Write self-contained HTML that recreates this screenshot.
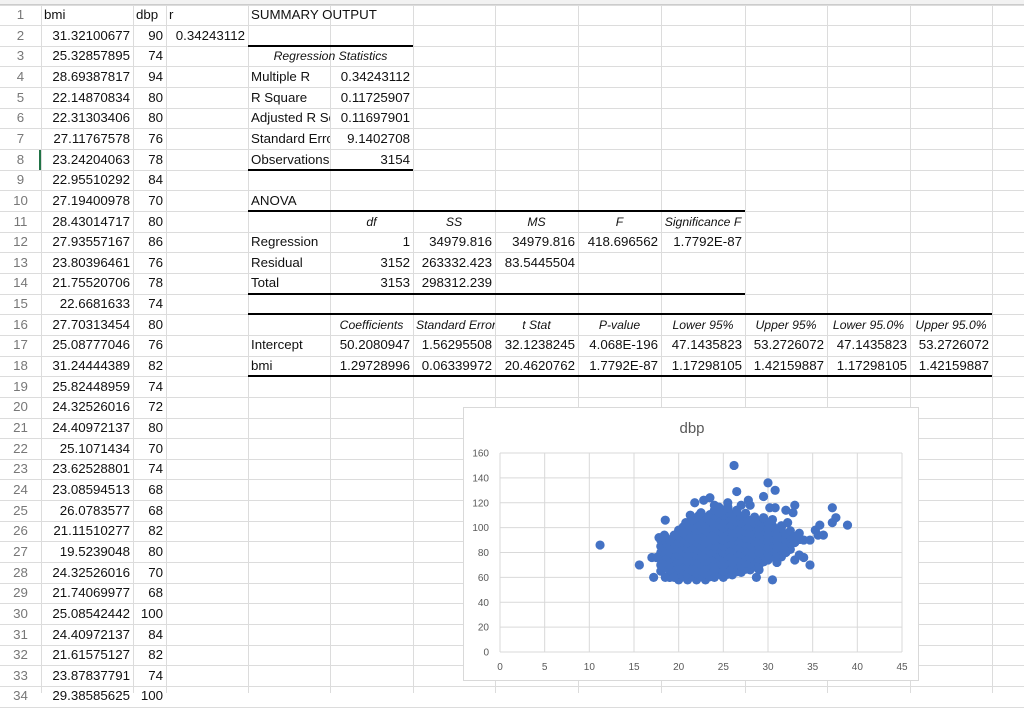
<!DOCTYPE html>
<html><head><meta charset="utf-8">
<style>
body{margin:0;width:1024px;height:693px;overflow:hidden;background:#fff;font-family:"Liberation Sans",sans-serif;position:relative}
.c{position:absolute;height:20.65px;line-height:20.65px;font-size:13.3px;color:#111;white-space:nowrap;overflow:hidden;box-sizing:border-box;padding:0 3px}
.r{text-align:right}.m{text-align:center}.i{font-style:italic;font-size:12.2px}
.ov{overflow:visible}
.rn{color:#777;text-align:center;padding:0}
.vl{position:absolute;top:0;width:1px;height:693px;background:#dcdcdc}
.hl{position:absolute;left:0;height:1px;width:1024px;background:#dcdcdc}
.tk{position:absolute;height:2px;background:#000}
</style></head><body>
<div id="grid"></div>
<div id="cells"></div>
<div style="position:absolute;left:463px;top:407px;width:456px;height:274px;background:#fff;border:1px solid #d9d9d9;box-sizing:border-box"></div>
<svg id="chart" width="1024" height="693" style="position:absolute;left:0;top:0"></svg>
<script>
const colX=[0,41,133,166,248,330,413,495,578,661,745,827,910,992,1024];
const rowTop=i=>5+(i-1)*20.65;
const grid=document.getElementById('grid');
for(let k=1;k<colX.length-1;k++){const d=document.createElement('div');d.className='vl';d.style.left=colX[k]+'px';

grid.appendChild(d);}
for(let i=1;i<=35;i++){const d=document.createElement('div');d.className='hl';d.style.top=(rowTop(i)-0.5)+'px';

grid.appendChild(d);}
const hdr=document.createElement('div');hdr.style.cssText='position:absolute;left:0;top:0;width:1024px;height:4px;background:#f2f2f2;border-bottom:1px solid #ccc';

grid.appendChild(hdr);
const sel=document.createElement('div');sel.style.cssText='position:absolute;left:39px;width:2px;background:#217346;top:'+rowTop(8)+'px;height:20px';

grid.appendChild(sel);

const colA=['31.32100677','25.32857895','28.69387817','22.14870834','22.31303406','27.11767578','23.24204063','22.95510292','27.19400978','28.43014717','27.93557167','23.80396461','21.75520706','22.6681633','27.70313454','25.08777046','31.24444389','25.82448959','24.32526016','24.40972137','25.1071434','23.62528801','23.08594513','26.0783577','21.11510277','19.5239048','24.32526016','21.74069977','25.08542442','24.40972137','21.61575127','23.87837791','29.38585625'];
const colB=[90,74,94,80,80,76,78,84,70,80,86,76,78,74,80,76,82,74,72,80,70,74,68,68,82,80,70,68,100,84,82,74,100];
const cells=document.getElementById('cells');
function cell(col,row,txt,cls,name){const d=document.createElement('div');d.className='c '+(cls||'');
d.style.left=colX[col]+'px';d.style.width=(colX[col+1]-colX[col])+'px';d.style.top=rowTop(row)+'px';d.textContent=txt;

cells.appendChild(d);}
for(let i=1;i<=34;i++){cell(0,i,String(i),'rn','row-number');}
cell(1,1,'bmi','','header-bmi');cell(2,1,'dbp','','header-dbp');cell(3,1,'r','','header-r');
for(let i=0;i<colA.length;i++){cell(1,i+2,colA[i],'r','bmi-value');cell(2,i+2,String(colB[i]),'r','dbp-value');}
cell(3,2,'0.34243112','r','r-value');
cell(4,1,'SUMMARY OUTPUT','ov','summary-output-title');
const rs=document.createElement('div');rs.className='c m i';rs.style.cssText='left:248px;width:165px;top:'+rowTop(3)+'px';rs.textContent='Regression Statistics';

cells.appendChild(rs);
const stL=['Multiple R','R Square','Adjusted R Square','Standard Error','Observations'];
const stV=['0.34243112','0.11725907','0.11697901','9.1402708','3154'];
for(let i=0;i<5;i++){cell(4,4+i,stL[i],'','stat-label');cell(5,4+i,stV[i],'r','stat-value');}
cell(4,10,'ANOVA','ov','anova-title');
const aH=['df','SS','MS','F','Significance F'];
aH.forEach((t,k)=>cell(5+k,11,t,'m i','anova-header'));
const aRows=[['Regression','1','34979.816','34979.816','418.696562','1.7792E-87'],['Residual','3152','263332.423','83.5445504'],['Total','3153','298312.239']];
aRows.forEach((r,j)=>r.forEach((t,k)=>cell(4+k,12+j,t,k?'r':'','anova-cell')));
const cH=['Coefficients','Standard Error','t Stat','P-value','Lower 95%','Upper 95%','Lower 95.0%','Upper 95.0%'];
cH.forEach((t,k)=>cell(5+k,16,t,'m i','coef-header'));
const cRows=[['Intercept','50.2080947','1.56295508','32.1238245','4.068E-196','47.1435823','53.2726072','47.1435823','53.2726072'],['bmi','1.29728996','0.06339972','20.4620762','1.7792E-87','1.17298105','1.42159887','1.17298105','1.42159887']];
cRows.forEach((r,j)=>r.forEach((t,k)=>cell(4+k,17+j,t,k?'r':'','coef-cell')));
function thick(x1,x2,row,name){const d=document.createElement('div');d.className='tk';d.style.left=x1+'px';d.style.width=(x2-x1)+'px';d.style.top=(rowTop(row)-1.5)+'px';

cells.appendChild(d);}
thick(248,413,3,'regression-table-top-border');thick(248,413,9,'regression-table-bottom-border');
thick(248,745,11,'anova-top-border');thick(248,745,15,'anova-bottom-border');
thick(248,992,16,'coef-top-border');thick(248,992,19,'coef-bottom-border');

// chart data
const xTicks=[0,5,10,15,20,25,30,35,40,45];
const yTicks=[0,20,40,60,80,100,120,140,160];
const clusterBmi=[18,19,20,21,22,23,24,25,26,27,28,29,30,31,32,33];
const clusterDbp=[
[65,70,75,80,85,90],[60,65,70,75,80,85,90],[58,63,68,73,78,83,88,93,98],[58,63,68,73,78,83,88,93,98,103],
[58,63,68,73,78,83,88,93,98,103,108],[58,63,68,73,78,83,88,93,98,103,108],[60,65,70,75,80,85,90,95,100,105,110,114],
[60,65,70,75,80,85,90,95,100,105,110,114],[62,67,72,77,82,87,92,97,102,107,111],[64,69,74,79,84,89,94,99,104,109],
[66,71,76,81,86,91,96,101,106],[70,75,80,85,90,95,100,105],[74,79,84,89,94,99,104],[74,79,84,89,94,99],[80,85,90,95],[88,93]];
const outBmi=[11.2,15.6,17.2,18.5,17,17.8,18.4,21.8,22.3,22.8,23.5,25.5,26.2,26.5,24,27.8,29.5,30,30.8,30.2,30.8,32,33,32.8,32.2,33,33.5,34,34.7,34,34.7,35.3,35.8,35.6,36.2,37.2,37.2,37.6,38.9,30.5,28.7,29,31,21.3,20.8,20.5,19,19.5,28,27,17.5,18.5,19.5,22.5,25.5,26.5,21.5,24.5,29.5,31.5];
const outDbp=[86,70,60,106,76,92,94,120,110,122,124,120,150,129,118,122,125,136,130,116,116,114,118,112,104,74,78,76,70,90,90,98,102,94,94,116,104,108,102,58,60,66,72,110,104,96,60,60,118,118,76,60,94,112,116,114,106,112,108,100];

const svg=document.getElementById('chart');const NS='http://www.w3.org/2000/svg';
const X0=500,X1=902,Y0=652,Y1=453;
const sx=v=>X0+(v-0)/(45-0)*(X1-X0), sy=v=>Y0-(v-0)/(160-0)*(Y0-Y1);
function el(tag,attrs){const e=document.createElementNS(NS,tag);for(const k in attrs)e.setAttribute(k,attrs[k]);svg.appendChild(e);return e;}
xTicks.forEach(t=>{const l=el('line',{x1:sx(t),x2:sx(t),y1:Y1,y2:Y0,stroke:'#d9d9d9','stroke-width':1});


const tx=el('text',{x:sx(t),y:Y0+18,'text-anchor':'middle','font-size':10,fill:'#595959','font-family':'Liberation Sans, sans-serif'});tx.textContent=t;

});
yTicks.forEach(t=>{const l=el('line',{x1:X0,x2:X1,y1:sy(t),y2:sy(t),stroke:'#d9d9d9','stroke-width':1});


const tx=el('text',{x:X0-11,y:sy(t)+3.5,'text-anchor':'end','font-size':10,fill:'#595959','font-family':'Liberation Sans, sans-serif'});tx.textContent=t;

});
const ttl=el('text',{x:692,y:433,'text-anchor':'middle','font-size':15,fill:'#595959','font-family':'Liberation Sans, sans-serif'});ttl.textContent='dbp';


clusterBmi.forEach((b,k)=>clusterDbp[k].forEach(d=>{
 [b,b+0.5].forEach(bb=>{const c=el('circle',{cx:sx(bb),cy:sy(d+(bb!==b?2.5:0)),r:4.6,fill:'#4472c4'});
 
 });
}));
outBmi.forEach((b,k)=>{const c=el('circle',{cx:sx(b),cy:sy(outDbp[k]),r:4.6,fill:'#4472c4'});

});
</script>
</body></html>
